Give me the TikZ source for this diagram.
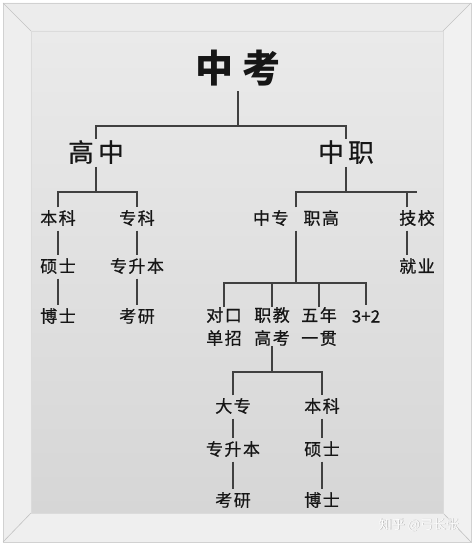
\documentclass[tikz,border=0pt]{standalone}
\usepackage{fontspec}
\newfontfamily\cjk{Noto Sans CJK SC}
\newfontfamily\cjkm[FakeBold=0.7]{Noto Sans CJK SC}
\definecolor{ln}{HTML}{404040}
\definecolor{tx}{HTML}{161616}
\definecolor{frT}{HTML}{ECECEC}
\definecolor{frL}{HTML}{EEEEEE}
\definecolor{frR}{HTML}{F1F1F1}
\definecolor{frB}{HTML}{EFEFEF}
\definecolor{pT}{HTML}{EAEAEA}
\definecolor{pM}{HTML}{E6E6E6}
\definecolor{pB}{HTML}{D6D6D6}
\tikzset{
  conn/.style={draw=ln, line width=1.3pt},
  title/.style={font=\cjk\bfseries\fontsize{38}{40}\selectfont, text=tx, inner xsep=0pt, inner ysep=4pt, text height=30pt, text depth=4pt},
  mid/.style={font=\cjkm\fontsize{25.5}{28}\selectfont, text=tx, inner xsep=0pt, inner ysep=2.5pt, text height=20pt, text depth=2.5pt},
  lbl/.style={font=\cjkm\fontsize{17}{23}\selectfont, text=tx, inner xsep=0pt, inner ysep=4pt, text height=13pt, text depth=2pt},
  lbltwo/.style={font=\cjkm\fontsize{17}{23}\selectfont, text=tx, inner xsep=0pt, inner ysep=0pt, align=center, anchor=north},
  wmark/.style={font=\cjk\fontsize{13}{14}\selectfont, inner sep=0pt},
}
\newcommand\gs{\hspace{1.5pt}}
\begin{document}
\begin{tikzpicture}[x=1pt,y=-1pt]
\useasboundingbox (0,0) rectangle (474,545);
\fill[white] (0,0) rectangle (474,545);
% frame
\fill[frT] (3,3) -- (471,3) -- (443,31) -- (31,31) -- cycle;
\fill[frL] (3,3) -- (31,31) -- (31,513) -- (3,542) -- cycle;
\fill[frR] (471,3) -- (471,542) -- (443,513) -- (443,31) -- cycle;
\fill[frB] (3,542) -- (471,542) -- (443,513) -- (31,513) -- cycle;
\shade[top color=pT, middle color=pM, bottom color=pB] (31,31) rectangle (443,513);
\draw[draw=black!18, line width=0.6pt] (3,3) rectangle (471,542);
\draw[draw=black!24, line width=0.6pt] (3,3) -- (31,31) (471,3) -- (443,31) (3,542) -- (31,513) (471,542) -- (443,513);
\draw[draw=black!14, line width=0.6pt] (31,31) rectangle (443,513);

% nodes
\node[title] (zk) at (238,70) {中\hspace{9pt}考};
\node[mid] (gz) at (96,153) {高\hspace{4.5pt}中};
\node[mid] (zz) at (346,153) {中\hspace{4.5pt}职};

\node[lbl] (bka) at (58,219) {本\gs 科};
\node[lbl] (zka) at (137,219) {专\gs 科};
\node[lbl] (zzzg) at (296,219) {中\gs 专\hspace{15pt}职\gs 高};
\node[lbl] (jx) at (417,219) {技\gs 校};
\coordinate (jxt) at (407,219);

\node[lbl] (ssa) at (58,267) {硕\gs 士};
\node[lbl] (bsa) at (58,317) {博\gs 士};
\node[lbl] (zsba) at (137,267) {专\gs 升\gs 本};
\node[lbl] (kya) at (137,317) {考\gs 研};
\node[lbl] (jy) at (417,267) {就\gs 业};
\coordinate (jyt) at (407,267);

\node[lbltwo] (dk) at (224,307) {对\gs 口\\单\gs 招};
\node[lbltwo] (zj) at (272,307) {职\gs 教\\高\gs 考};
\node[lbltwo] (wn) at (319,307) {五\gs 年\\一\gs 贯};
\node[lbl] (sj) at (366,317) {3+2};

\node[lbl] (dz) at (233,407) {大\gs 专};
\node[lbl] (bkb) at (322,407) {本\gs 科};
\node[lbl] (zsbb) at (233,450) {专\gs 升\gs 本};
\node[lbl] (ssb) at (322,450) {硕\gs 士};
\node[lbl] (kyb) at (233,501) {考\gs 研};
\node[lbl] (bsb) at (322,501) {博\gs 士};

\node[wmark, text=black!30] (wmb) at (419.6,525.6) {知乎 @弓长张};
\node[wmark, text=white] (wm) at (419,525) {知乎 @弓长张};

% junction levels
\coordinate (ya) at (0,126);
\coordinate (yb) at (0,192);
\coordinate (yc) at (0,283);
\coordinate (yd) at (0,372);
\coordinate (xe) at (417,0);

% connectors
\draw[conn] (zk.south) -- (zk.south |- ya);
\draw[conn] (gz.north) |- (zk.south |- ya) -| (zz.north);

\draw[conn] (gz.south) -- (gz.south |- yb);
\draw[conn] (bka.north) |- (gz.south |- yb) -| (zka.north);

\draw[conn] (zz.south) -- (zz.south |- yb);
\draw[conn] (zzzg.north) |- (xe |- yb);
\draw[conn] (jxt |- jx.north) -- (jxt |- yb);

\draw[conn] (bka.south) -- (ssa.north);
\draw[conn] (ssa.south) -- (bsa.north);
\draw[conn] (zka.south) -- (zsba.north);
\draw[conn] (zsba.south) -- (kya.north);
\draw[conn] (jxt |- jx.south) -- (jyt |- jy.north);

\draw[conn] (zzzg.south) -- (zzzg.south |- yc);
\draw[conn] (dk.north) |- (zzzg.south |- yc) -| (sj.north);
\draw[conn] (zj.north) -- (zj.north |- yc);
\draw[conn] (wn.north) -- (wn.north |- yc);

\draw[conn] (zj.south) -- (zj.south |- yd);
\draw[conn] (dz.north) |- (zj.south |- yd) -| (bkb.north);

\draw[conn] (dz.south) -- (zsbb.north);
\draw[conn] (zsbb.south) -- (kyb.north);
\draw[conn] (bkb.south) -- (ssb.north);
\draw[conn] (ssb.south) -- (bsb.north);
\end{tikzpicture}
\end{document}
